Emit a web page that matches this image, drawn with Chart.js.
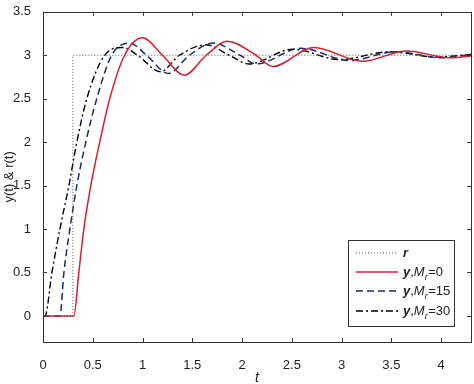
<!DOCTYPE html>
<html>
<head>
<meta charset="utf-8">
<script src="https://cdn.jsdelivr.net/npm/chart.js@4.4.1/dist/chart.umd.min.js"></script>
<style>
  html, body { margin: 0; padding: 0; background: #fff; }
  #wrap { width: 474px; height: 384px; }
</style>
</head>
<body>
<div id="wrap"><canvas id="c" width="474" height="384"></canvas></div>
<script>
(function () {
  "use strict";

  /* ── Data ── */
  const xTicks = [0, 0.5, 1, 1.5, 2, 2.5, 3, 3.5, 4];
  const yTicks = [0, 0.5, 1, 1.5, 2, 2.5, 3, 3.5];

  const tRef = [0, 0.3, 0.3, 4.3];
  const yRef = [0, 0, 3, 3];

  const t0 = [0, 0.31, 0.36, 0.41, 0.48, 0.57, 0.67, 0.82, 1.0, 1.2, 1.42, 1.64, 1.85, 2.14, 2.31, 2.72, 3.21, 3.65, 4.1, 4.3];
  const y0 = [0, 0, 0.5, 1.0, 1.5, 2.0, 2.5, 3.0, 3.2, 3.0, 2.77, 3.0, 3.16, 3.0, 2.87, 3.09, 2.93, 3.05, 2.97, 2.99];

  const t15 = [0, 0.17, 0.21, 0.27, 0.34, 0.43, 0.54, 0.69, 0.87, 1.04, 1.26, 1.47, 1.71, 1.98, 2.14, 2.59, 3.08, 3.54, 4.01, 4.3];
  const y15 = [0, 0, 0.5, 1.0, 1.5, 2.0, 2.5, 3.0, 3.14, 3.0, 2.79, 3.0, 3.14, 3.0, 2.9, 3.08, 2.94, 3.04, 2.97, 3.01];

  const t30 = [0, 0.02, 0.09, 0.17, 0.26, 0.34, 0.44, 0.62, 0.8, 0.95, 1.18, 1.37, 1.64, 1.87, 2.07, 2.51, 2.98, 3.48, 3.95, 4.3];
  const y30 = [0, 0, 0.5, 1.0, 1.5, 2.0, 2.5, 3.0, 3.09, 3.0, 2.81, 3.0, 3.12, 3.0, 2.9, 3.07, 2.95, 3.04, 2.98, 3.01];

  const legendLabels = ['r', '0', '15', '30'];

  const pts = (xs, ys) => xs.map((x, i) => ({ x: x, y: ys[i] }));
  const FONT = '"Liberation Sans", Arial, sans-serif';
  const INK = '#222';

  /* ── Box + inward ticks (MATLAB style) ── */
  const boxPlugin = {
    id: 'box',
    afterDatasetsDraw(chart) {
      const { ctx, chartArea: a, scales } = chart;
      ctx.save();
      ctx.strokeStyle = '#333';
      ctx.lineWidth = 1;
      ctx.beginPath();
      xTicks.forEach(v => {
        const x = Math.round(scales.x.getPixelForValue(v)) + 0.5;
        ctx.moveTo(x, a.bottom); ctx.lineTo(x, a.bottom - 4);
        ctx.moveTo(x, a.top); ctx.lineTo(x, a.top + 4);
      });
      yTicks.forEach(v => {
        const y = Math.round(scales.y.getPixelForValue(v)) + 0.5;
        ctx.moveTo(a.left, y); ctx.lineTo(a.left + 4, y);
        ctx.moveTo(a.right, y); ctx.lineTo(a.right - 4, y);
      });
      ctx.stroke();
      ctx.strokeRect(Math.round(a.left) + 0.5, Math.round(a.top) + 0.5,
        Math.round(a.right - a.left), Math.round(a.bottom - a.top));
      ctx.restore();
    }
  };

  /* ── Legend with subscripts ── */
  const legendPlugin = {
    id: 'mlegend',
    afterDraw(chart) {
      const { ctx } = chart;
      const bx = 348, by = 240, bw = 106, bh = 86;
      ctx.save();
      ctx.fillStyle = '#fff';
      ctx.fillRect(bx, by, bw, bh);
      ctx.strokeStyle = '#333';
      ctx.lineWidth = 1;
      ctx.strokeRect(bx + 0.5, by + 0.5, bw, bh);
      const rows = [253, 272, 291, 311];
      chart.data.datasets.forEach((ds, i) => {
        const y = rows[i];
        ctx.beginPath();
        ctx.strokeStyle = ds.borderColor;
        ctx.lineWidth = ds.borderWidth;
        ctx.setLineDash(ds.borderDash || []);
        ctx.moveTo(356, y); ctx.lineTo(398, y);
        ctx.stroke();
        ctx.setLineDash([]);
        ctx.fillStyle = INK;
        ctx.textBaseline = 'middle';
        let x = 403;
        if (i === 0) {
          ctx.font = 'italic bold 13px ' + FONT;
          ctx.fillText(legendLabels[0], x, y);
          return;
        }
        ctx.font = 'italic bold 13px ' + FONT;
        ctx.fillText('y', x, y); x += ctx.measureText('y').width;
        ctx.font = '13px ' + FONT;
        ctx.fillText(',', x, y); x += ctx.measureText(',').width;
        ctx.font = 'italic 13px ' + FONT;
        ctx.fillText('M', x, y); x += ctx.measureText('M').width;
        ctx.font = 'italic 9px ' + FONT;
        ctx.fillText('r', x, y + 5); x += ctx.measureText('r').width + 0.5;
        ctx.font = '13px ' + FONT;
        ctx.fillText('=' + legendLabels[i], x, y);
      });
      ctx.restore();
    }
  };

  new Chart(document.getElementById('c'), {
    type: 'line',
    data: {
      datasets: [
        { label: 'r', data: pts(tRef, yRef), borderColor: '#555', borderWidth: 1, borderDash: [1, 2], tension: 0 },
        { label: 'y,Mr=0', data: pts(t0, y0), borderColor: '#d42030', borderWidth: 1.5, cubicInterpolationMode: 'monotone' },
        { label: 'y,Mr=15', data: pts(t15, y15), borderColor: '#1c2a6e', borderWidth: 1.5, borderDash: [7, 4], cubicInterpolationMode: 'monotone' },
        { label: 'y,Mr=30', data: pts(t30, y30), borderColor: '#000', borderWidth: 1.4, borderDash: [7, 3, 2, 3], cubicInterpolationMode: 'monotone' }
      ]
    },
    options: {
      responsive: false,
      animation: false,
      layout: { padding: { top: 8, right: 3, left: 0, bottom: 0 } },
      elements: { point: { radius: 0 } },
      plugins: { legend: { display: false }, tooltip: { enabled: false } },
      scales: {
        x: {
          type: 'linear', min: 0, max: 4.3,
          afterBuildTicks: s => { s.ticks = xTicks.map(v => ({ value: v })); },
          afterFit: s => { s.height = 42; },
          grid: { display: false },
          border: { display: false },
          ticks: { padding: 8, color: INK, font: { family: FONT, size: 13 }, callback: v => String(v), maxRotation: 0 },
          title: { display: true, text: 't', color: INK, padding: { top: 0, bottom: -3 }, font: { family: FONT, size: 14, style: 'italic' } }
        },
        y: {
          type: 'linear', min: -0.3, max: 3.5,
          afterBuildTicks: s => { s.ticks = yTicks.map(v => ({ value: v })); },
          afterFit: s => { s.width = 43; },
          grid: { display: false },
          border: { display: false },
          ticks: { padding: 4, color: INK, font: { family: FONT, size: 13 }, callback: v => String(v) },
          title: { display: true, text: 'y(t) & r(t)', color: INK, padding: { top: 2, bottom: 0 }, font: { family: FONT, size: 13 } }
        }
      }
    },
    plugins: [boxPlugin, legendPlugin]
  });
})();
</script>
</body>
</html>
